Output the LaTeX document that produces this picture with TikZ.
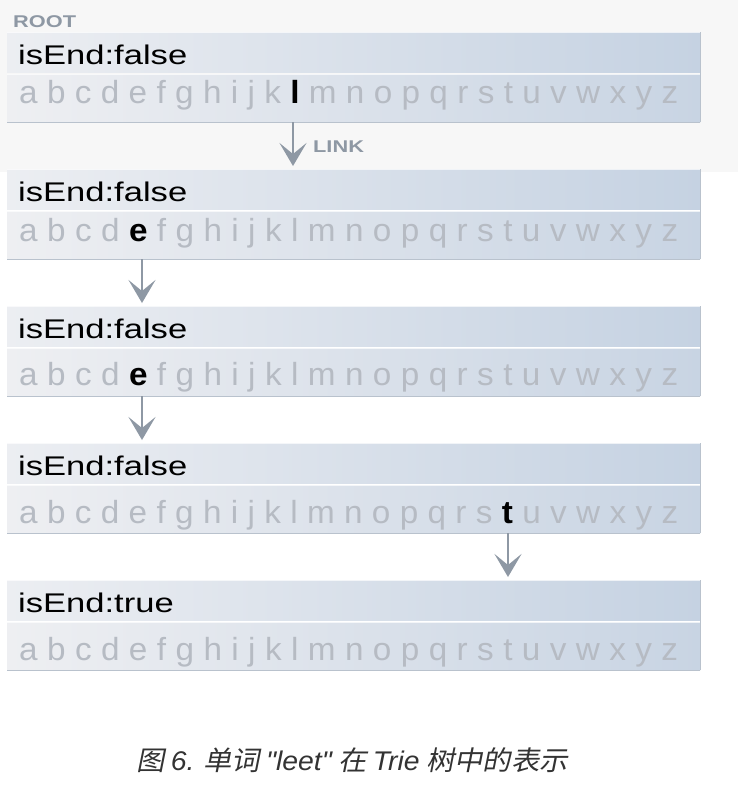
\documentclass[tikz,border=0pt]{standalone}
\usepackage{fontspec}
\setmainfont{Liberation Sans}
\newfontfamily\boxfont[FakeStretch=1.28]{Liberation Sans}
\newfontfamily\letfont[FakeStretch=1.04]{Liberation Sans}
\newfontfamily\capfont[FakeSlant=0.2,FakeStretch=1.05]{Noto Sans CJK SC}
\newfontfamily\caplat[FakeStretch=1.05]{Liberation Sans}
\newcommand\lat[1]{{\caplat\itshape #1}}
\usetikzlibrary{arrows.meta}
\definecolor{bggray}{HTML}{F7F7F7}
\definecolor{hdrL}{HTML}{ECEEF2}
\definecolor{hdrR}{HTML}{C5D2E2}
\definecolor{rowL}{HTML}{EEEFF2}
\definecolor{rowR}{HTML}{C8D4E3}
\definecolor{edgegray}{HTML}{B9C2CD}
\definecolor{linkgray}{HTML}{8E98A4}
\definecolor{lettergray}{HTML}{B6BBC3}
\definecolor{capgray}{HTML}{333333}
\newcommand\hl[1]{{\bfseries\color{black}#1}}
\newcommand\alpharow[1]{\makebox[659pt][s]{#1}}
\tikzset{
  hdr/.style={rectangle, anchor=north west, minimum width=693pt, minimum height=40pt, inner sep=0pt, left color=hdrL, right color=hdrR},
  lrow/.style={rectangle, anchor=north west, minimum width=693pt, minimum height=48pt, inner sep=0pt, left color=rowL, right color=rowR},
  edge/.style={draw=edgegray, line width=1.2pt},
  lbl/.style={anchor=base west, inner sep=0pt, font=\boxfont\fontsize{27}{32}\selectfont, text=black},
  letters/.style={anchor=base west, inner sep=0pt, font=\letfont\fontsize{32}{36}\selectfont, text=lettergray},
  tag/.style={anchor=base west, inner sep=0pt, font=\boxfont\bfseries\fontsize{17}{20}\selectfont, text=linkgray},
  link/.style={draw=linkgray, line width=2.4pt, -{Stealth[length=23pt,width=27pt,inset=11pt]}, shorten >=3pt},
}
\begin{document}
\begin{tikzpicture}[x=1pt,y=-1pt]
\useasboundingbox (0,0) rectangle (738,804);
\fill[bggray] (0,0) rectangle (738,172);
\node[tag] (root) at (13,27) {ROOT};
% box 1
\node[hdr] (h1) at (7,32) {};
\node[lrow] (r1) at (7,74) {};
% box 2
\node[hdr] (h2) at (7,169) {};
\node[lrow] (r2) at (7,211) {};
% box 3
\node[hdr] (h3) at (7,306) {};
\node[lrow] (r3) at (7,348) {};
% box 4
\node[hdr] (h4) at (7,443) {};
\node[lrow] (r4) at (7,485) {};
% box 5
\node[hdr] (h5) at (7,580) {};
\node[lrow] (r5) at (7,622) {};
\foreach \n in {1,...,5}{
  \draw[edge] (r\n.south west) -- (r\n.south east);
  \draw[draw=edgegray, line width=0.8pt] (h\n.north east) -- (r\n.south east);
  \draw[draw=white, line width=0.8pt, opacity=0.7] (h\n.north west) -- (h\n.north east);
  \draw[draw=white, line width=0.8pt, opacity=0.7] (r\n.north west) -- (r\n.north east);
}
\node[lbl] (t1) at (18,64) {isEnd:false};
\node[lbl] (t2) at (18,201) {isEnd:false};
\node[lbl] (t3) at (18,338) {isEnd:false};
\node[lbl] (t4) at (18,475) {isEnd:false};
\node[lbl] (t5) at (18,612) {isEnd:true};
\node[letters] (a1) at (19,103) {\alpharow{a b c d e f g h i j k \hl{l} m n o p q r s t u v w x y z}};
\node[letters] (a2) at (19,241) {\alpharow{a b c d \hl{e} f g h i j k l m n o p q r s t u v w x y z}};
\node[letters] (a3) at (19,385) {\alpharow{a b c d \hl{e} f g h i j k l m n o p q r s t u v w x y z}};
\node[letters] (a4) at (19,523) {\alpharow{a b c d e f g h i j k l m n o p q r s \hl{t} u v w x y z}};
\node[letters] (a5) at (19,660) {\alpharow{a b c d e f g h i j k l m n o p q r s t u v w x y z}};
\coordinate (x1) at (293,0);
\coordinate (x2) at (142,0);
\coordinate (x4) at (508,0);
\draw[link] (r1.south -| x1) -- (h2.north -| x1);
\draw[link] (r2.south -| x2) -- (h3.north -| x2);
\draw[link] (r3.south -| x2) -- (h4.north -| x2);
\draw[link] (r4.south -| x4) -- (h5.north -| x4);
\node[tag] (linklbl) at (313,152) {LINK};
\node[anchor=base, inner sep=0pt, font=\capfont\fontsize{27}{31}\selectfont, text=capgray] (cap) at (352,770) {图 \lat{6.} 单词 \lat{"leet"} 在 \lat{Trie} 树中的表示};
\end{tikzpicture}
\end{document}
